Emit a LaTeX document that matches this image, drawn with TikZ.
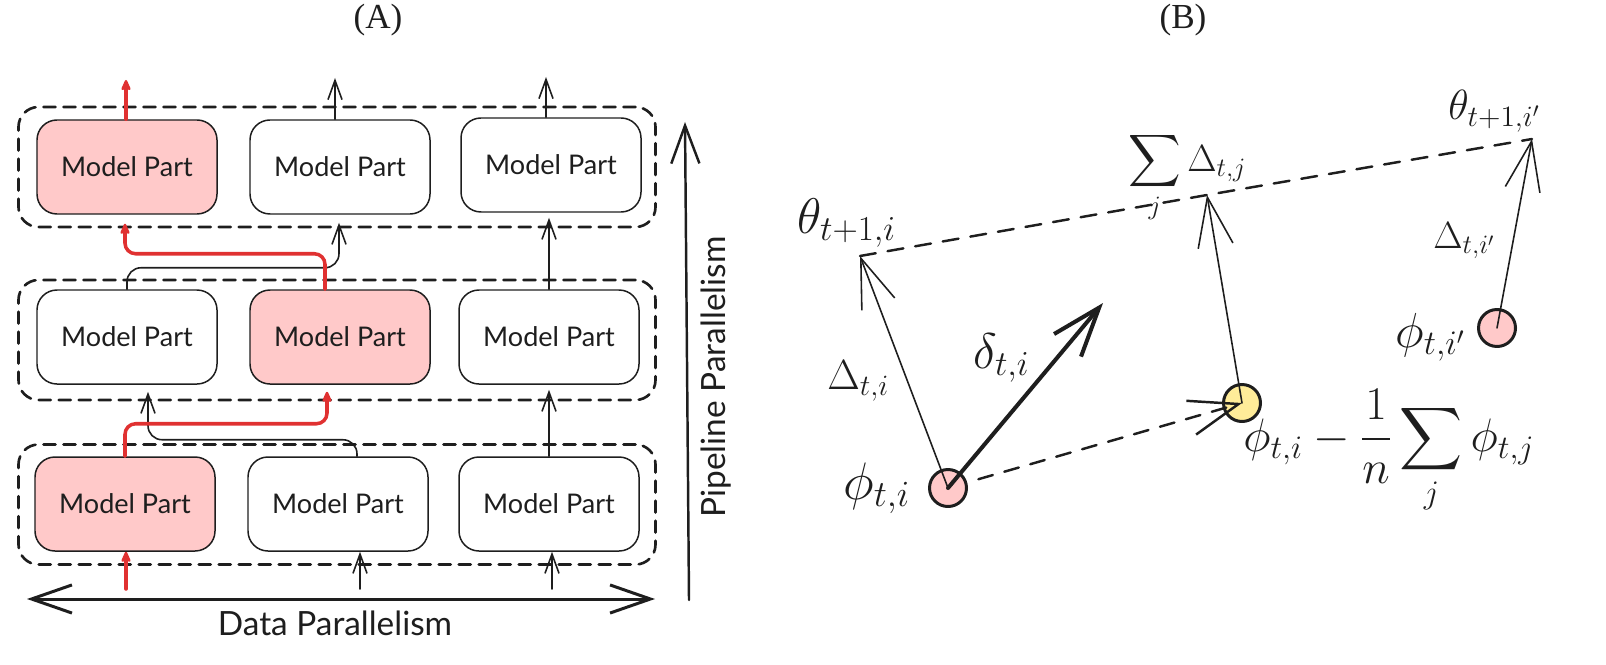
\RequirePackage{fix-cm}
\documentclass[tikz,border=0pt]{standalone}
\usepackage{exscale}
\usepackage[no-math]{fontspec}
\newfontfamily\lato{Lato}
\newfontfamily\titlefont{Liberation Serif}
\usetikzlibrary{arrows.meta,calc}

\definecolor{ink}{HTML}{1E1E1E}
\definecolor{rose}{HTML}{FFC9C9}
\definecolor{flow}{HTML}{E03131}
\definecolor{sand}{HTML}{FFEC99}

\tikzset{
	part/.style={draw=ink, line width=0.85pt, rounded corners=4mm, minimum width=36mm, minimum height=18.8mm, inner sep=0, text=ink, font=\lato\fontsize{15.4}{18}\selectfont},
	hot/.style={part, fill=rose},
	group/.style={draw=ink, line width=1.5pt, dash pattern=on 2.4mm off 1.6mm, rounded corners=4mm, minimum width=127.4mm, minimum height=24mm, inner sep=0},
	flowline/.style={draw=flow, line width=2pt, rounded corners=6pt, -{Stealth[length=8pt,width=7pt,inset=2.5pt,round]}},
	passline/.style={draw=ink, line width=0.9pt, rounded corners=8pt, -{Straight Barb[length=11pt,width=8pt]}},
	spread/.style={draw=ink, line width=1.7pt, {Straight Barb[length=23pt,width=16pt]}-{Straight Barb[length=23pt,width=16pt]}},
	rise/.style={draw=ink, line width=1.4pt, -{Straight Barb[length=21.6pt,width=16pt]}},
	axistext/.style={text=ink, font=\lato\fontsize{19}{22}\selectfont},
	titletext/.style={text=ink, font=\titlefont\fontsize{20}{22}\selectfont},
	dot/.style={circle, draw=ink, line width=1.7pt, minimum size=7.4mm, inner sep=0},
	grad/.style={draw=ink, line width=0.9pt, -{Straight Barb[length=28pt,width=20pt]}},
	push/.style={draw=ink, line width=2.3pt, -{Straight Barb[length=28pt,width=20pt]}},
	avg/.style={draw=ink, line width=1.4pt, dash pattern=on 3mm off 2.4mm, shorten <=18pt, -{Straight Barb[length=28pt,width=20pt]}},
	outer/.style={draw=ink, line width=1.4pt, dash pattern=on 3.2mm off 2.4mm},
	sym/.style={inner sep=0, anchor=base west, text=ink}
}

\begin{document}
\begin{tikzpicture}[x=0.2mm, y=-0.2mm, line cap=round, line join=round]
\useasboundingbox (0,0) rectangle (1606,665);

% Panel titles
\node[titletext] (ta) at (378,20) {(A)};
\node[titletext] (tb) at (1183,20) {(B)};

% Pipeline stages
\foreach \name/\y in {gt/167, gm/340, gb/504.5}
	\node[group] (\name) at (337,\y) {};

% Model parts
\foreach \name/\x/\y/\kind in {t1/127/167/hot, t2/340/167/part, t3/551/165/part,
	m1/127/337/part, m2/340/337/hot, m3/549/337/part,
	b1/125/504/hot, b2/338/504/part, b3/549/504/part}
	\node[\kind] (\name) at (\x,\y) {Model Part};

% Outputs of the last stage
\coordinate (o1) at (126,80);
\coordinate (o2) at (335,78);
\coordinate (o3) at (546,77);
\draw[flowline] (o1 |- t1.north) -- (o1);
\draw[passline] (o2 |- t2.north) -- (o2);
\draw[passline] (o3 |- t3.north) -- (o3);

% Inputs of the first stage
\coordinate (i1) at (126,589);
\coordinate (i2) at (360,589);
\coordinate (i3) at (552,589);
\draw[flowline] (i1) -- (i1 |- b1.south);
\draw[passline] (i2) -- (i2 |- b2.south);
\draw[passline] (i3) -- (i3 |- b3.south);

% Bottom to middle
\draw[passline] ($(b2.north)+(19,0)$) |- ($(m1.south)+(21,55)$) -- ($(m1.south)+(21,7)$);
\draw[flowline] (b1.north) |- ($(m2.south)+(-13,39)$) -- ($(m2.south)+(-13,7)$);
\draw[passline] (b3.north) -- ($(m3.south)+(0,5)$);

% Middle to top
\draw[passline] (m1.north) |- ($(t2.south)+(-1,53)$) -- ($(t2.south)+(-1,8)$);
\draw[flowline] ($(m2.north)+(-15,0)$) |- ($(t1.south)+(-2,39)$) -- ($(t1.south)+(-2,9)$);
\draw[passline] (m3.north) -- ($(t3.south)+(-2,5)$);

% Axes
\coordinate (dl) at (27,599);
\coordinate (dr) at (655,599);
\draw[spread] (dl) -- (dr);
\node[axistext] (dp) at (335,623) {Data Parallelism};
\coordinate (pl) at (689,600);
\coordinate (pu) at (685,122);
\draw[rise] (pl) -- (pu);
\node[axistext, rotate=90] (pp) at (716,377) {Pipeline Parallelism};

% Workers
\node[dot, fill=rose] (w1) at (948,488) {};
\node[dot, fill=sand] (wa) at (1242,403) {};
\node[dot, fill=rose] (w2) at (1497,328) {};

\coordinate (th1) at (860,256);
\coordinate (sj) at (1207,195);
\coordinate (th2) at (1532,139);
\coordinate (dt) at (1103,303);

% Updates
\draw[outer] (th1) -- (sj) -- (th2);
\draw[grad] (w1.center) -- (th1);
\draw[push] (w1.center) -- (dt);
\draw[avg] (w1.center) -- (wa.center);
\draw[grad] (wa.center) -- (sj);
\draw[grad] (w2.center) -- (th2);

% Symbols
\node[sym, font=\fontsize{28.5}{30}\selectfont] (lth1) at (797,233) {$\theta_{t+1,i}$};
\node[sym, font=\fontsize{24}{26}\selectfont] (lth2) at (1448,120) {$\theta_{t+1,i'}$};
\node[sym, font=\fontsize{21.6}{24}\selectfont] (lsum) at (1128,171) {$\displaystyle\sum_j\Delta_{t,j}$};
\node[sym, font=\fontsize{24}{26}\selectfont] (ld1) at (827,389) {$\Delta_{t,i}$};
\node[sym, font=\fontsize{21.6}{24}\selectfont] (ld2) at (1433,248) {$\Delta_{t,i'}$};
\node[sym, font=\fontsize{28.5}{30}\selectfont] (lds) at (973,368) {$\delta_{t,i}$};
\node[sym, font=\fontsize{30}{32}\selectfont] (lp1) at (843,499) {$\phi_{t,i}$};
\node[sym, font=\fontsize{28}{30}\selectfont] (lp2) at (1395,347) {$\phi_{t,i'}$};
\node[sym, font=\fontsize{26.7}{28}\selectfont] (lavg) at (1243,451) {$\displaystyle\phi_{t,i}-\frac{1}{n}\sum_j\phi_{t,j}$};

\end{tikzpicture}
\end{document}
